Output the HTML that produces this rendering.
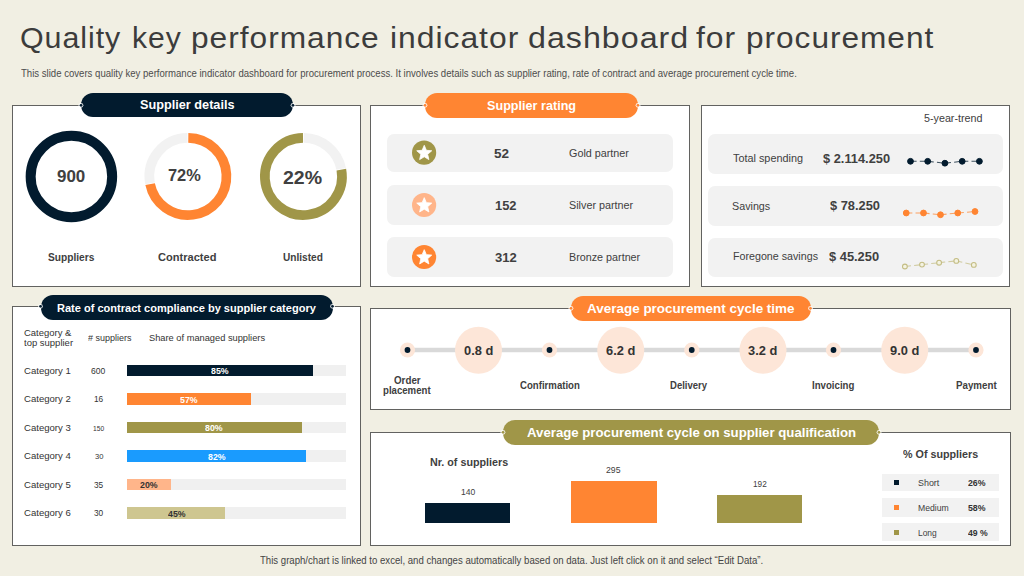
<!DOCTYPE html>
<html><head><meta charset="utf-8"><title>Quality KPI dashboard for procurement</title>
<style>
html,body{margin:0;padding:0}
body{width:1024px;height:576px;background:#f1efe3;position:relative;overflow:hidden;font-family:"Liberation Sans",sans-serif}
.t{position:absolute;white-space:nowrap;line-height:1;font-family:"Liberation Sans",sans-serif}
.card{position:absolute;background:#fff;border:1px solid #626260;box-sizing:border-box}
.pill{position:absolute;border-radius:12px}
.row{position:absolute;background:#f2f2f2;border-radius:7px}
.b{position:absolute}
svg{position:absolute;left:0;top:0}
</style></head><body>
<div class="card" style="left:12px;top:105px;width:349px;height:182px"></div>
<div class="card" style="left:370px;top:105px;width:320px;height:182px"></div>
<div class="card" style="left:701px;top:105px;width:309px;height:182px"></div>
<div class="card" style="left:12px;top:306px;width:349px;height:240px"></div>
<div class="card" style="left:370px;top:308px;width:641px;height:102px"></div>
<div class="card" style="left:370px;top:432px;width:641px;height:114px"></div>
<div class="pill" style="left:81px;top:93px;width:212px;height:24px;background:#021b2e"></div>
<div class="pill" style="left:425px;top:93px;width:213px;height:24.5px;background:#ff8532"></div>
<div class="pill" style="left:40.5px;top:295.2px;width:292px;height:24.5px;background:#021b2e"></div>
<div class="pill" style="left:571px;top:296px;width:239.5px;height:24.5px;background:#ff8532"></div>
<div class="pill" style="left:503px;top:420px;width:376px;height:24.5px;background:#a09648"></div>
<div class="row" style="left:387.25px;top:133.8px;width:285.25px;height:38px"></div>
<div class="row" style="left:387.25px;top:185px;width:285.25px;height:39.6px"></div>
<div class="row" style="left:387.25px;top:237.2px;width:285.25px;height:39.5px"></div>
<div class="row" style="left:708.25px;top:134.4px;width:294.25px;height:39.4px"></div>
<div class="row" style="left:708.25px;top:186.4px;width:294.25px;height:39.2px"></div>
<div class="row" style="left:708.25px;top:237.7px;width:294.25px;height:39.2px"></div>
<div class="b" style="left:127px;top:364.9px;width:218.5px;height:11.4px;background:#f0f0f0"></div>
<div class="b" style="left:127px;top:364.9px;width:185.725px;height:11.4px;background:#021b2e"></div>
<div class="b" style="left:127px;top:393.4px;width:218.5px;height:11.4px;background:#f0f0f0"></div>
<div class="b" style="left:127px;top:393.4px;width:123.89px;height:11.4px;background:#ff8532"></div>
<div class="b" style="left:127px;top:421.9px;width:218.5px;height:11.4px;background:#f0f0f0"></div>
<div class="b" style="left:127px;top:421.9px;width:174.8px;height:11.4px;background:#a09648"></div>
<div class="b" style="left:127px;top:450.4px;width:218.5px;height:11.4px;background:#f0f0f0"></div>
<div class="b" style="left:127px;top:450.4px;width:179.17px;height:11.4px;background:#1a9bfe"></div>
<div class="b" style="left:127px;top:478.9px;width:218.5px;height:11.4px;background:#f0f0f0"></div>
<div class="b" style="left:127px;top:478.9px;width:43.7px;height:11.4px;background:#ffb58a"></div>
<div class="b" style="left:127px;top:507.4px;width:218.5px;height:11.4px;background:#f0f0f0"></div>
<div class="b" style="left:127px;top:507.4px;width:98.325px;height:11.4px;background:#cec690"></div>
<div class="b" style="left:424.5px;top:503.25px;width:85.75px;height:19.25px;background:#021b2e"></div>
<div class="b" style="left:571.25px;top:480.75px;width:85.5px;height:41.75px;background:#ff8532"></div>
<div class="b" style="left:716.75px;top:495px;width:85.5px;height:27.5px;background:#a09648"></div>
<div class="b" style="left:881.75px;top:473.5px;width:117.5px;height:17.5px;background:#f2f2f2"></div>
<div class="b" style="left:893.6px;top:479.75px;width:5.1px;height:5.1px;background:#021b2e"></div>
<div class="b" style="left:881.75px;top:498.4px;width:117.5px;height:18.3px;background:#f2f2f2"></div>
<div class="b" style="left:893.6px;top:505.05px;width:5.1px;height:5.1px;background:#ff8532"></div>
<div class="b" style="left:881.75px;top:523.1px;width:117.5px;height:18.4px;background:#f2f2f2"></div>
<div class="b" style="left:893.6px;top:529.8px;width:5.1px;height:5.1px;background:#a09648"></div>
<svg width="1024" height="576" viewBox="0 0 1024 576">
<circle cx="81" cy="105.3" r="2.4" fill="#fff" fill-opacity="0.8"/><circle cx="81" cy="105.3" r="1.35" fill="#021b2e"/>
<circle cx="293" cy="105.3" r="2.4" fill="#fff" fill-opacity="0.8"/><circle cx="293" cy="105.3" r="1.35" fill="#021b2e"/>
<circle cx="425" cy="105.3" r="2.4" fill="#fff" fill-opacity="0.8"/><circle cx="425" cy="105.3" r="1.35" fill="#ff8532"/>
<circle cx="638" cy="105.3" r="2.4" fill="#fff" fill-opacity="0.8"/><circle cx="638" cy="105.3" r="1.35" fill="#ff8532"/>
<circle cx="40.5" cy="306.3" r="2.4" fill="#fff" fill-opacity="0.8"/><circle cx="40.5" cy="306.3" r="1.35" fill="#021b2e"/>
<circle cx="332.5" cy="306.3" r="2.4" fill="#fff" fill-opacity="0.8"/><circle cx="332.5" cy="306.3" r="1.35" fill="#021b2e"/>
<circle cx="571" cy="308.3" r="2.4" fill="#fff" fill-opacity="0.8"/><circle cx="571" cy="308.3" r="1.35" fill="#ff8532"/>
<circle cx="810.5" cy="308.3" r="2.4" fill="#fff" fill-opacity="0.8"/><circle cx="810.5" cy="308.3" r="1.35" fill="#ff8532"/>
<circle cx="503" cy="432.3" r="2.4" fill="#fff" fill-opacity="0.8"/><circle cx="503" cy="432.3" r="1.35" fill="#a09648"/>
<circle cx="879" cy="432.3" r="2.4" fill="#fff" fill-opacity="0.8"/><circle cx="879" cy="432.3" r="1.35" fill="#a09648"/>
<circle cx="71.4" cy="176.5" r="40.75" fill="none" stroke="#021b2e" stroke-width="10"/>
<path d="M188.30 137.95 A38.55 38.55 0 1 1 150.11 184.12" fill="none" stroke="#ff8532" stroke-width="9.7"/>
<path d="M149.96 183.33 A38.55 38.55 0 0 1 187.50 137.95" fill="none" stroke="#f2f2f2" stroke-width="9.7"/>
<path d="M303.80 137.95 A38.55 38.55 0 0 1 341.19 168.88" fill="none" stroke="#f2f2f2" stroke-width="9.7"/>
<path d="M341.34 169.67 A38.55 38.55 0 1 1 303.00 137.95" fill="none" stroke="#a09648" stroke-width="9.7"/>
<circle cx="424.1" cy="152.65" r="12.1" fill="#a09648"/>
<polygon points="424.25,145.30 426.37,150.29 431.76,150.76 427.67,154.31 428.89,159.59 424.25,156.80 419.61,159.59 420.83,154.31 416.74,150.76 422.13,150.29" fill="#fff" stroke="#fff" stroke-width="0.8" stroke-linejoin="round"/>
<circle cx="424.1" cy="205" r="12.1" fill="#ffb58a"/>
<polygon points="424.25,197.65 426.37,202.64 431.76,203.11 427.67,206.66 428.89,211.94 424.25,209.15 419.61,211.94 420.83,206.66 416.74,203.11 422.13,202.64" fill="#fff" stroke="#fff" stroke-width="0.8" stroke-linejoin="round"/>
<circle cx="424.1" cy="257" r="12.1" fill="#ff8532"/>
<polygon points="424.25,249.65 426.37,254.64 431.76,255.11 427.67,258.66 428.89,263.94 424.25,261.15 419.61,263.94 420.83,258.66 416.74,255.11 422.13,254.64" fill="#fff" stroke="#fff" stroke-width="0.8" stroke-linejoin="round"/>
<line x1="910.50" y1="161.30" x2="927.70" y2="161.30" stroke="#021b2e" stroke-width="1.1" stroke-opacity="0.75" stroke-dasharray="5.6 3.2" stroke-dashoffset="-0.5"/>
<line x1="927.70" y1="161.30" x2="944.90" y2="163.20" stroke="#021b2e" stroke-width="1.1" stroke-opacity="0.75" stroke-dasharray="5.6 3.2" stroke-dashoffset="-0.5"/>
<line x1="944.90" y1="163.20" x2="962.20" y2="161.30" stroke="#021b2e" stroke-width="1.1" stroke-opacity="0.75" stroke-dasharray="5.6 3.2" stroke-dashoffset="-0.5"/>
<line x1="962.20" y1="161.30" x2="979.40" y2="161.30" stroke="#021b2e" stroke-width="1.1" stroke-opacity="0.75" stroke-dasharray="5.6 3.2" stroke-dashoffset="-0.5"/>
<circle cx="910.50" cy="161.30" r="2.9" fill="#021b2e" stroke="#021b2e" stroke-width="1"/>
<circle cx="927.70" cy="161.30" r="2.9" fill="#021b2e" stroke="#021b2e" stroke-width="1"/>
<circle cx="944.90" cy="163.20" r="2.9" fill="#021b2e" stroke="#021b2e" stroke-width="1"/>
<circle cx="962.20" cy="161.30" r="2.9" fill="#021b2e" stroke="#021b2e" stroke-width="1"/>
<circle cx="979.40" cy="161.30" r="2.9" fill="#021b2e" stroke="#021b2e" stroke-width="1"/>
<line x1="906.25" y1="213.00" x2="923.50" y2="213.00" stroke="#ff8532" stroke-width="1.1" stroke-opacity="0.75" stroke-dasharray="5.6 3.2" stroke-dashoffset="-0.5"/>
<line x1="923.50" y1="213.00" x2="940.50" y2="214.75" stroke="#ff8532" stroke-width="1.1" stroke-opacity="0.75" stroke-dasharray="5.6 3.2" stroke-dashoffset="-0.5"/>
<line x1="940.50" y1="214.75" x2="957.75" y2="213.00" stroke="#ff8532" stroke-width="1.1" stroke-opacity="0.75" stroke-dasharray="5.6 3.2" stroke-dashoffset="-0.5"/>
<line x1="957.75" y1="213.00" x2="975.00" y2="211.50" stroke="#ff8532" stroke-width="1.1" stroke-opacity="0.75" stroke-dasharray="5.6 3.2" stroke-dashoffset="-0.5"/>
<circle cx="906.25" cy="213.00" r="2.9" fill="#ff8532" stroke="#ff8532" stroke-width="1"/>
<circle cx="923.50" cy="213.00" r="2.9" fill="#ff8532" stroke="#ff8532" stroke-width="1"/>
<circle cx="940.50" cy="214.75" r="2.9" fill="#ff8532" stroke="#ff8532" stroke-width="1"/>
<circle cx="957.75" cy="213.00" r="2.9" fill="#ff8532" stroke="#ff8532" stroke-width="1"/>
<circle cx="975.00" cy="211.50" r="2.9" fill="#ff8532" stroke="#ff8532" stroke-width="1"/>
<line x1="904.90" y1="266.50" x2="922.00" y2="264.60" stroke="#c4bd84" stroke-width="1.1" stroke-opacity="0.75" stroke-dasharray="5.6 3.2" stroke-dashoffset="-0.5"/>
<line x1="922.00" y1="264.60" x2="939.10" y2="262.70" stroke="#c4bd84" stroke-width="1.1" stroke-opacity="0.75" stroke-dasharray="5.6 3.2" stroke-dashoffset="-0.5"/>
<line x1="939.10" y1="262.70" x2="956.30" y2="260.90" stroke="#c4bd84" stroke-width="1.1" stroke-opacity="0.75" stroke-dasharray="5.6 3.2" stroke-dashoffset="-0.5"/>
<line x1="956.30" y1="260.90" x2="973.80" y2="264.90" stroke="#c4bd84" stroke-width="1.1" stroke-opacity="0.75" stroke-dasharray="5.6 3.2" stroke-dashoffset="-0.5"/>
<circle cx="904.90" cy="266.50" r="2.4" fill="#f4f3e2" stroke="#c4bd84" stroke-width="1.1"/>
<circle cx="922.00" cy="264.60" r="2.4" fill="#f4f3e2" stroke="#c4bd84" stroke-width="1.1"/>
<circle cx="939.10" cy="262.70" r="2.4" fill="#f4f3e2" stroke="#c4bd84" stroke-width="1.1"/>
<circle cx="956.30" cy="260.90" r="2.4" fill="#f4f3e2" stroke="#c4bd84" stroke-width="1.1"/>
<circle cx="973.80" cy="264.90" r="2.4" fill="#f4f3e2" stroke="#c4bd84" stroke-width="1.1"/>
<line x1="407.5" y1="350" x2="976" y2="350" stroke="#d9d9d9" stroke-width="4.5"/>
<circle cx="407.5" cy="350" r="7.6" fill="#fde6d8"/><circle cx="407.5" cy="350" r="2.9" fill="#021b2e"/>
<circle cx="549.5" cy="350" r="7.6" fill="#fde6d8"/><circle cx="549.5" cy="350" r="2.9" fill="#021b2e"/>
<circle cx="691.75" cy="350" r="7.6" fill="#fde6d8"/><circle cx="691.75" cy="350" r="2.9" fill="#021b2e"/>
<circle cx="833.5" cy="350" r="7.6" fill="#fde6d8"/><circle cx="833.5" cy="350" r="2.9" fill="#021b2e"/>
<circle cx="976" cy="350" r="7.6" fill="#fde6d8"/><circle cx="976" cy="350" r="2.9" fill="#021b2e"/>
<circle cx="478.5" cy="350.25" r="23.5" fill="#fde6d8"/>
<circle cx="620.75" cy="350.25" r="23.5" fill="#fde6d8"/>
<circle cx="763" cy="350.25" r="23.5" fill="#fde6d8"/>
<circle cx="904.75" cy="350.25" r="23.5" fill="#fde6d8"/>
</svg>
<div class="t" style="left:20.44px;top:24.00px;font-size:29.00px;color:#3c3c3c;letter-spacing:0.900px;transform:scaleX(1.0478);transform-origin:0 0;">Quality</div>
<div class="t" style="left:131.95px;top:24.00px;font-size:29.00px;color:#3c3c3c;letter-spacing:0.900px;transform:scaleX(1.0383);transform-origin:0 0;">key</div>
<div class="t" style="left:191.39px;top:24.00px;font-size:29.00px;color:#3c3c3c;letter-spacing:0.900px;transform:scaleX(1.0927);transform-origin:0 0;">performance</div>
<div class="t" style="left:390.39px;top:24.00px;font-size:29.00px;color:#3c3c3c;letter-spacing:0.900px;transform:scaleX(1.0977);transform-origin:0 0;">indicator</div>
<div class="t" style="left:528.37px;top:24.00px;font-size:29.00px;color:#3c3c3c;letter-spacing:0.900px;transform:scaleX(1.1108);transform-origin:0 0;">dashboard</div>
<div class="t" style="left:695.88px;top:24.00px;font-size:29.00px;color:#3c3c3c;letter-spacing:0.900px;transform:scaleX(1.1009);transform-origin:0 0;">for</div>
<div class="t" style="left:745.89px;top:24.00px;font-size:29.00px;color:#3c3c3c;letter-spacing:0.900px;transform:scaleX(1.0898);transform-origin:0 0;">procurement</div>
<div class="t" style="left:20.66px;top:69.00px;font-size:10.35px;color:#4c4c4c;transform:scaleX(0.9268);transform-origin:0 0;">This slide covers quality key performance indicator dashboard for procurement process. It involves details such as supplier rating, rate of contract and average procurement cycle time.</div>
<div class="t" style="left:140.31px;top:98.00px;font-size:13.30px;font-weight:bold;color:#fff;transform:scaleX(0.9549);transform-origin:0 0;">Supplier details</div>
<div class="t" style="left:486.81px;top:99.00px;font-size:13.50px;font-weight:bold;color:#fff;transform:scaleX(0.9349);transform-origin:0 0;">Supplier rating</div>
<div class="t" style="left:57.11px;top:304.00px;font-size:10.00px;font-weight:bold;color:#fff;transform:scaleX(1.1038);transform-origin:0 0;">Rate of contract compliance by supplier category</div>
<div class="t" style="left:587.03px;top:302.00px;font-size:13.50px;font-weight:bold;color:#fff;transform:scaleX(0.9974);transform-origin:0 0;">Average procurement cycle time</div>
<div class="t" style="left:526.54px;top:426.00px;font-size:13.50px;font-weight:bold;color:#fff;transform:scaleX(0.9783);transform-origin:0 0;">Average procurement cycle on supplier qualification</div>
<div class="t" style="left:57.31px;top:168.00px;font-size:16.20px;font-weight:bold;color:#404040;transform:scaleX(1.0465);transform-origin:0 0;">900</div>
<div class="t" style="left:168.43px;top:167.00px;font-size:17.00px;font-weight:bold;color:#404040;transform:scaleX(0.9644);transform-origin:0 0;">72%</div>
<div class="t" style="left:282.57px;top:169.00px;font-size:18.50px;font-weight:bold;color:#404040;transform:scaleX(1.0561);transform-origin:0 0;">22%</div>
<div class="t" style="left:48.39px;top:252.00px;font-size:11.00px;font-weight:bold;color:#404040;transform:scaleX(0.9259);transform-origin:0 0;">Suppliers</div>
<div class="t" style="left:158.36px;top:252.00px;font-size:11.00px;font-weight:bold;color:#404040;transform:scaleX(1.0060);transform-origin:0 0;">Contracted</div>
<div class="t" style="left:282.90px;top:252.00px;font-size:11.00px;font-weight:bold;color:#404040;transform:scaleX(0.9195);transform-origin:0 0;">Unlisted</div>
<div class="t" style="left:494.28px;top:147.00px;font-size:13.53px;font-weight:bold;color:#404040;transform:scaleX(1.0010);transform-origin:0 0;">52</div>
<div class="t" style="left:495.05px;top:200.00px;font-size:12.92px;font-weight:bold;color:#404040;transform:scaleX(0.9990);transform-origin:0 0;">152</div>
<div class="t" style="left:494.79px;top:251.00px;font-size:13.07px;font-weight:bold;color:#404040;transform:scaleX(0.9994);transform-origin:0 0;">312</div>
<div class="t" style="left:568.87px;top:147.00px;font-size:11.64px;color:#404040;transform:scaleX(0.9276);transform-origin:0 0;">Gold partner</div>
<div class="t" style="left:568.87px;top:199.00px;font-size:11.66px;color:#404040;transform:scaleX(0.9260);transform-origin:0 0;">Silver partner</div>
<div class="t" style="left:568.87px;top:251.00px;font-size:11.62px;color:#404040;transform:scaleX(0.9271);transform-origin:0 0;">Bronze partner</div>
<div class="t" style="left:923.52px;top:113.00px;font-size:11.59px;color:#404040;transform:scaleX(0.9273);transform-origin:0 0;">5-year-trend</div>
<div class="t" style="left:732.87px;top:152.00px;font-size:11.71px;color:#404040;transform:scaleX(0.9267);transform-origin:0 0;">Total spending</div>
<div class="t" style="left:822.80px;top:153.00px;font-size:12.83px;font-weight:bold;color:#404040;transform:scaleX(0.9994);transform-origin:0 0;">$ 2.114.250</div>
<div class="t" style="left:731.62px;top:201.00px;font-size:11.59px;color:#404040;transform:scaleX(0.9270);transform-origin:0 0;">Savings</div>
<div class="t" style="left:829.80px;top:200.00px;font-size:12.86px;font-weight:bold;color:#404040;transform:scaleX(0.9992);transform-origin:0 0;">$ 78.250</div>
<div class="t" style="left:732.83px;top:251.00px;font-size:11.55px;color:#404040;transform:scaleX(0.9259);transform-origin:0 0;">Foregone savings</div>
<div class="t" style="left:829.35px;top:251.00px;font-size:12.87px;font-weight:bold;color:#404040;transform:scaleX(1.0002);transform-origin:0 0;">$ 45.250</div>
<div class="t" style="left:24.42px;top:329.00px;font-size:9.10px;color:#333;transform:scaleX(1.0417);transform-origin:0 0;">Category &amp;</div>
<div class="t" style="left:24.42px;top:339.00px;font-size:9.10px;color:#333;transform:scaleX(1.0432);transform-origin:0 0;">top supplier</div>
<div class="t" style="left:87.59px;top:334.00px;font-size:9.10px;color:#333;transform:scaleX(0.9866);transform-origin:0 0;"># suppliers</div>
<div class="t" style="left:149.18px;top:334.00px;font-size:9.10px;color:#333;transform:scaleX(1.0202);transform-origin:0 0;">Share of managed suppliers</div>
<div class="t" style="left:24.42px;top:367.00px;font-size:9.30px;color:#333;transform:scaleX(1.0291);transform-origin:0 0;">Category 1</div>
<div class="t" style="left:91.45px;top:367.00px;font-size:8.58px;color:#333;transform:scaleX(0.9967);transform-origin:0 0;">600</div>
<div class="t" style="left:210.94px;top:367.00px;font-size:9.38px;font-weight:bold;color:#fff;transform:scaleX(0.9359);transform-origin:0 0;">85%</div>
<div class="t" style="left:24.42px;top:395.00px;font-size:9.30px;color:#333;transform:scaleX(1.0291);transform-origin:0 0;">Category 2</div>
<div class="t" style="left:94.21px;top:395.00px;font-size:8.37px;color:#333;transform:scaleX(0.9935);transform-origin:0 0;">16</div>
<div class="t" style="left:180.19px;top:396.00px;font-size:9.38px;font-weight:bold;color:#fff;transform:scaleX(0.9359);transform-origin:0 0;">57%</div>
<div class="t" style="left:24.42px;top:424.00px;font-size:9.30px;color:#333;transform:scaleX(1.0291);transform-origin:0 0;">Category 3</div>
<div class="t" style="left:92.77px;top:426.00px;font-size:6.72px;color:#333;transform:scaleX(0.9942);transform-origin:0 0;">150</div>
<div class="t" style="left:205.19px;top:424.00px;font-size:9.38px;font-weight:bold;color:#fff;transform:scaleX(0.9359);transform-origin:0 0;">80%</div>
<div class="t" style="left:24.42px;top:452.00px;font-size:9.30px;color:#333;transform:scaleX(1.0291);transform-origin:0 0;">Category 4</div>
<div class="t" style="left:94.73px;top:453.00px;font-size:7.62px;color:#333;transform:scaleX(0.9986);transform-origin:0 0;">30</div>
<div class="t" style="left:207.69px;top:453.00px;font-size:9.38px;font-weight:bold;color:#fff;transform:scaleX(0.9359);transform-origin:0 0;">82%</div>
<div class="t" style="left:24.42px;top:481.00px;font-size:9.30px;color:#333;transform:scaleX(1.0291);transform-origin:0 0;">Category 5</div>
<div class="t" style="left:94.21px;top:481.00px;font-size:8.37px;color:#333;transform:scaleX(0.9935);transform-origin:0 0;">35</div>
<div class="t" style="left:140.19px;top:481.00px;font-size:9.38px;font-weight:bold;color:#333;transform:scaleX(0.9359);transform-origin:0 0;">20%</div>
<div class="t" style="left:24.42px;top:509.00px;font-size:9.30px;color:#333;transform:scaleX(1.0291);transform-origin:0 0;">Category 6</div>
<div class="t" style="left:94.21px;top:509.00px;font-size:8.37px;color:#333;transform:scaleX(0.9935);transform-origin:0 0;">30</div>
<div class="t" style="left:167.69px;top:510.00px;font-size:9.38px;font-weight:bold;color:#333;transform:scaleX(0.9359);transform-origin:0 0;">45%</div>
<div class="t" style="left:394.16px;top:375.00px;font-size:10.56px;font-weight:bold;color:#404040;transform:scaleX(0.9269);transform-origin:0 0;">Order</div>
<div class="t" style="left:383.41px;top:386.00px;font-size:10.40px;font-weight:bold;color:#404040;transform:scaleX(0.9264);transform-origin:0 0;">placement</div>
<div class="t" style="left:519.66px;top:381.00px;font-size:10.39px;font-weight:bold;color:#404040;transform:scaleX(0.9274);transform-origin:0 0;">Confirmation</div>
<div class="t" style="left:670.17px;top:381.00px;font-size:10.30px;font-weight:bold;color:#404040;transform:scaleX(0.9261);transform-origin:0 0;">Delivery</div>
<div class="t" style="left:812.16px;top:381.00px;font-size:10.43px;font-weight:bold;color:#404040;transform:scaleX(0.9262);transform-origin:0 0;">Invoicing</div>
<div class="t" style="left:956.41px;top:380.00px;font-size:10.52px;font-weight:bold;color:#404040;transform:scaleX(0.9267);transform-origin:0 0;">Payment</div>
<div class="t" style="left:463.80px;top:345.00px;font-size:12.85px;font-weight:bold;color:#333;transform:scaleX(0.9996);transform-origin:0 0;">0.8 d</div>
<div class="t" style="left:606.05px;top:345.00px;font-size:12.85px;font-weight:bold;color:#333;transform:scaleX(0.9996);transform-origin:0 0;">6.2 d</div>
<div class="t" style="left:748.30px;top:345.00px;font-size:12.85px;font-weight:bold;color:#333;transform:scaleX(0.9996);transform-origin:0 0;">3.2 d</div>
<div class="t" style="left:890.05px;top:345.00px;font-size:12.85px;font-weight:bold;color:#333;transform:scaleX(0.9996);transform-origin:0 0;">9.0 d</div>
<div class="t" style="left:430.12px;top:456.00px;font-size:11.60px;font-weight:bold;color:#404040;transform:scaleX(0.9264);transform-origin:0 0;">Nr. of suppliers</div>
<div class="t" style="left:460.95px;top:488.00px;font-size:8.54px;color:#404040;transform:scaleX(1.0020);transform-origin:0 0;">140</div>
<div class="t" style="left:606.44px;top:466.00px;font-size:8.69px;color:#404040;transform:scaleX(1.0036);transform-origin:0 0;">295</div>
<div class="t" style="left:753.46px;top:481.00px;font-size:8.24px;color:#404040;transform:scaleX(0.9996);transform-origin:0 0;">192</div>
<div class="t" style="left:902.62px;top:448.00px;font-size:11.60px;font-weight:bold;color:#404040;transform:scaleX(0.9262);transform-origin:0 0;">% Of suppliers</div>
<div class="t" style="left:917.79px;top:478.00px;font-size:9.61px;color:#404040;transform:scaleX(0.9276);transform-origin:0 0;">Short</div>
<div class="t" style="left:967.69px;top:479.00px;font-size:8.76px;font-weight:bold;color:#333;transform:scaleX(1.0006);transform-origin:0 0;">26%</div>
<div class="t" style="left:917.80px;top:504.00px;font-size:9.34px;color:#404040;transform:scaleX(0.9269);transform-origin:0 0;">Medium</div>
<div class="t" style="left:967.69px;top:504.00px;font-size:8.76px;font-weight:bold;color:#333;transform:scaleX(1.0006);transform-origin:0 0;">58%</div>
<div class="t" style="left:917.80px;top:529.00px;font-size:9.11px;color:#404040;transform:scaleX(0.9265);transform-origin:0 0;">Long</div>
<div class="t" style="left:967.70px;top:529.00px;font-size:8.68px;font-weight:bold;color:#333;transform:scaleX(0.9995);transform-origin:0 0;">49 %</div>
<div class="t" style="left:260.46px;top:556.00px;font-size:10.37px;color:#444;transform:scaleX(0.9265);transform-origin:0 0;">This graph/chart is linked to excel, and changes automatically based on data. Just left click on it and select “Edit Data”.</div>
</body></html>
